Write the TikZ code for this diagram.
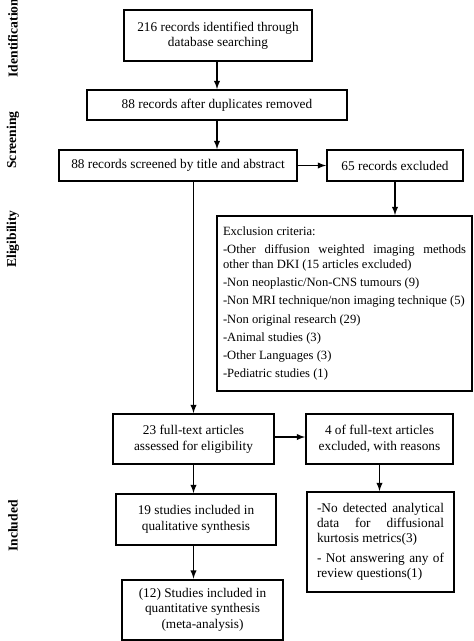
\documentclass[tikz,border=0pt]{standalone}
\usepackage{fontspec}
\setmainfont{Liberation Serif}
\usepackage{tikz}
\usetikzlibrary{arrows}
\hyphenpenalty=10000
\exhyphenpenalty=10000
\tikzset{bx/.style={draw,line width=2pt,align=center,inner sep=4pt,
  font=\fontsize{13.3}{15.5}\selectfont}}
\tikzset{sd/.style={rotate=90,font=\fontsize{13.6}{13.6}\selectfont\bfseries}}
\tikzset{ar/.style={->,>=latex,line width=1.8pt}}

\begin{document}
\begin{tikzpicture}[x=1pt,y=-1pt]
          \useasboundingbox (0,0) rectangle (474,641);
          % phases
          \node[sd] (ph1) at (13,38) {Identification};
          \node[sd] (ph2) at (13,140) {Screening};
          \node[sd] (ph3) at (13,239) {Eligibility};
          \node[sd] (ph4) at (13,526) {Included};
          % boxes
          \node[bx,minimum width=188pt,minimum height=51pt] (id) at (218,35.5)
            {216 records identified through\\database searching};
          \node[bx,minimum width=260pt,minimum height=30pt] (dup) at (217,105)
            {88 records after duplicates removed};
          \node[bx,minimum width=238pt,minimum height=31pt] (scr) at (178,165.5)
            {88 records screened by title and abstract};
          \node[bx,minimum width=136pt,minimum height=31pt] (exc) at (395,165.5)
            {65 records excluded};
          \node[bx,align=justify,text width=243pt,inner sep=6pt,minimum height=175pt,
            font=\fontsize{12.6}{14.8}\selectfont] (crit) at (344.5,303.5)
            {Exclusion criteria:\\[3.5pt]
            -Other diffusion weighted imaging methods\linebreak other than DKI (15 articles excluded)\\[3.5pt]
            -Non neoplastic/Non-CNS tumours (9)\\[3.5pt]
            \mbox{-Non MRI technique/non imaging technique (5)}\\[3.5pt]
            -Non original research (29)\\[3.5pt]
            -Animal studies (3)\\[3.5pt]
            -Other Languages (3)\\[3.5pt]
            -Pediatric studies (1)};
          \node[bx,minimum width=161pt,minimum height=50pt] (full) at (193.5,439)
            {23 full-text articles\\assessed for eligibility};
          \node[bx,minimum width=147pt,minimum height=50pt] (fexc) at (379.5,439)
            {4 of full-text articles\\excluded, with reasons};
          \node[bx,minimum width=160pt,minimum height=51pt] (qual) at (196,519.5)
            {19 studies included in\\qualitative synthesis};
          \node[bx,minimum width=161pt,minimum height=60pt] (quant) at (202.5,609.5)
            {(12) Studies included in\\quantitative synthesis\\(meta-analysis)};
          \node[bx,align=justify,text width=127pt,inner sep=10pt,minimum height=100pt,
            font=\fontsize{13.3}{15}\selectfont] (rsn) at (380.5,542)
            {-No detected analytical data for diffusional kurtosis metrics(3)\\[5pt]
            - Not answering any of review questions(1)};
          % arrows
          \draw[ar] (id.south -| dup.north) -- (dup.north);
          \draw[ar] (dup.south) -- (dup.south |- scr.north);
          \draw[ar] (scr.east) -- (exc.west);
          \draw[ar] (exc.south) -- (exc.south |- crit.north);
          \draw[ar] (full.north |- scr.south) -- (full.north);
          \draw[ar] (full.east |- 0,437) -- (fexc.west |- 0,437);
          \draw[ar] (full.south) -- (full.south |- qual.north);
          \draw[ar] (full.south |- qual.south) -- (full.south |- quant.north);
          \draw[ar] (fexc.south) -- (fexc.south |- rsn.north);
        \end{tikzpicture}
\end{document}
